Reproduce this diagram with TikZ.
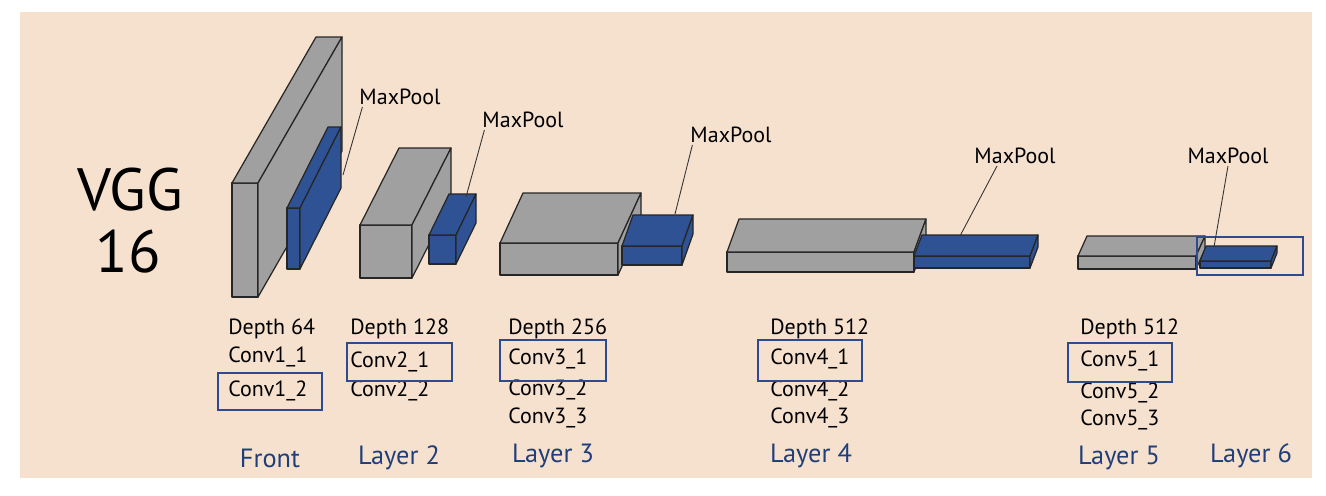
\documentclass[tikz,border=0pt]{standalone}
\usepackage{fontspec}
\setmainfont{PT Sans}
\usepackage{xcolor}
\usetikzlibrary{positioning}
\definecolor{bgbeige}{HTML}{F6E1CE}
\definecolor{fmgray}{HTML}{A0A0A0}
\definecolor{fmblue}{HTML}{2F5294}
\definecolor{hlblue}{HTML}{2E4B8F}
\definecolor{lyblue}{HTML}{1F3F7A}

% cuboid: x1, y1 (top), x2, y2 (bottom), dx, dy, fill
\newcommand\cuboid[7]{%
  \draw[cube, fill=#7] (#1,#2) rectangle (#3,#4);
  \draw[cube, fill=#7] (#1,#2) -- ++(#5,-#6) -- (#3+#5,#2-#6) -- (#3,#2) -- cycle;
  \draw[cube, fill=#7] (#3,#2) -- (#3+#5,#2-#6) -- (#3+#5,#4-#6) -- (#3,#4) -- cycle;
}

\begin{document}
\begin{tikzpicture}[
  x=0.02cm, y=-0.02cm,
  cube/.style={draw=black!85, line width=0.7pt, line join=round},
  txt/.style={font=\fontsize{12.5}{14}\selectfont, anchor=west, inner sep=0pt},
  pool/.style={font=\fontsize{12.5}{14}\selectfont, inner sep=1pt},
  hl/.style={draw=hlblue, line width=1.6pt},
  layer/.style={font=\fontsize{15}{17}\selectfont, text=lyblue},
  leader/.style={draw=black!80, line width=0.5pt}
]
\useasboundingbox (0,0) rectangle (1326,495);
\fill[bgbeige] (20,12) rectangle (1312,478);

% --- TITLE ---
\node[font=\fontsize{34}{36}\selectfont] (vgg) at (130,190) {VGG};
\node[font=\fontsize{34}{36}\selectfont] (sixteen) at (128,252) {16};

% --- FEATURE MAPS ---
\cuboid{232}{183}{258}{297}{84}{146}{fmgray}
\cuboid{287}{208}{300}{269}{41}{81}{fmblue}
\cuboid{360}{225}{412}{278}{39}{77}{fmgray}
\cuboid{429}{235}{456}{264}{20}{41}{fmblue}
\cuboid{500}{243}{618}{275}{23}{50}{fmgray}
\cuboid{622}{246}{682}{265}{11}{31}{fmblue}
\cuboid{727}{252}{914}{272}{12}{33}{fmgray}
\cuboid{914}{256}{1030}{268}{8}{21}{fmblue}
\cuboid{1078}{256}{1196}{269}{9}{20}{fmgray}
\cuboid{1200}{261}{1271}{268}{6}{15}{fmblue}
\draw[hl] (1197,237) rectangle (1303,275);

% --- MAXPOOL LEADERS ---
\coordinate (p1) at (343,175);
\coordinate (p2) at (466,197);
\coordinate (p3) at (675,214);
\coordinate (p4) at (960,236);
\coordinate (p5) at (1214,247);
\node[pool] (mp1) at (400,97) {MaxPool};
\node[pool] (mp2) at (523,120) {MaxPool};
\node[pool] (mp3) at (731,135) {MaxPool};
\node[pool] (mp4) at (1015,156) {MaxPool};
\node[pool] (mp5) at (1228,156) {MaxPool};
\draw[leader] (mp1.south west) ++(5,0) -- (p1);
\draw[leader] (mp2.south west) ++(4,0) -- (p2);
\draw[leader] (mp3.south west) ++(4,0) -- (p3);
\draw[leader] (mp4.south) ++(-18,0) -- (p4);
\draw[leader] (mp5.south) -- (p5);

% --- LAYER TEXTS ---
\node[txt] (d1) at (228,329) {Depth 64};
\node[txt] (c11) at (228,357) {Conv1\_1};
\node[txt] (c12) at (228,391) {Conv1\_2};
\draw[hl] (218,373) rectangle (322,410);

\node[txt] (d2) at (350,329) {Depth 128};
\node[txt] (c21) at (350,362) {Conv2\_1};
\node[txt] (c22) at (350,391) {Conv2\_2};
\draw[hl] (347,343) rectangle (452,381);

\node[txt] (d3) at (508,329) {Depth 256};
\node[txt] (c31) at (508,359) {Conv3\_1};
\node[txt] (c32) at (508,390) {Conv3\_2};
\node[txt] (c33) at (508,418) {Conv3\_3};
\draw[hl] (500,340) rectangle (606,381);

\node[txt] (d4) at (770,329) {Depth 512};
\node[txt] (c41) at (770,359) {Conv4\_1};
\node[txt] (c42) at (770,391) {Conv4\_2};
\node[txt] (c43) at (770,418) {Conv4\_3};
\draw[hl] (758,340) rectangle (862,381);

\node[txt] (d5) at (1080,329) {Depth 512};
\node[txt] (c51) at (1080,361) {Conv5\_1};
\node[txt] (c52) at (1080,393) {Conv5\_2};
\node[txt] (c53) at (1080,420) {Conv5\_3};
\draw[hl] (1068,343) rectangle (1172,382);

\node[layer] (l1) at (270,458) {Front};
\node[layer] (l2) at (399,458) {Layer 2};
\node[layer] (l3) at (553,456) {Layer 3};
\node[layer] (l4) at (811,456) {Layer 4};
\node[layer] (l5) at (1119,458) {Layer 5};
\node[layer] (l6) at (1251,456) {Layer 6};
\end{tikzpicture}
\end{document}
